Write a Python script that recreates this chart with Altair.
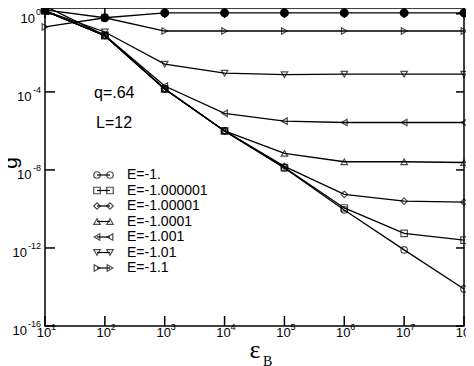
import altair as alt
import pandas as pd

# ---------------- data ----------------
x_exponents = [1, 2, 3, 4, 5, 6, 7, 8]            # eps_B = 10^k
series_labels = ["E=-1.", "E=-1.000001", "E=-1.00001", "E=-1.0001",
                 "E=-1.001", "E=-1.01", "E=-1.1"]
series_shapes = ["circle", "square", "diamond", "triangle-up",
                 "triangle-left", "triangle-down", "triangle-right"]
# log10(g) at each x
log_g_E1        = [0.40, -1.10, -3.85, -6.00, -7.90, -10.05, -12.10, -14.10]
log_g_E1000001  = [0.15, -1.12, -3.85, -6.00, -7.88, -9.95, -11.25, -11.60]
log_g_E100001   = [0.15, -1.12, -3.85, -6.00, -7.82, -9.25, -9.60, -9.65]
log_g_E10001    = [0.15, -1.12, -3.85, -6.00, -7.15, -7.58, -7.58, -7.62]
log_g_E1001     = [0.15, -1.10, -3.70, -5.10, -5.50, -5.57, -5.57, -5.57]
log_g_E101      = [0.15, -0.93, -2.58, -3.04, -3.12, -3.09, -3.09, -3.09]
log_g_E11       = [-0.67, -0.20, -0.88, -0.88, -0.88, -0.88, -0.88, -0.88]
log_g_filled    = [0.20, -0.20, 0.05, 0.05, 0.05, 0.05, 0.05, 0.05]

y_tick_exponents = [-16, -12, -8, -4, 0]
annotations = ["q=.64", "L=12"]

# ---------------- build tables ----------------
all_logs = [log_g_E1, log_g_E1000001, log_g_E100001, log_g_E10001,
            log_g_E1001, log_g_E101, log_g_E11]
rows = []
for lab, logs in zip(series_labels, all_logs):
    for k, lg in zip(x_exponents, logs):
        rows.append({"series": lab, "eps": 10.0 ** k, "g": 10.0 ** lg})
filled_name = "filled"
for k, lg in zip(x_exponents, log_g_filled):
    rows.append({"series": filled_name, "eps": 10.0 ** k, "g": 10.0 ** lg})
df = pd.DataFrame(rows)

xt = pd.DataFrame({"v": [10.0 ** k for k in x_exponents],
                   "exp": [str(k) for k in x_exponents]})
yt = pd.DataFrame({"v": [10.0 ** k for k in y_tick_exponents],
                   "exp": [str(k) for k in y_tick_exponents]})
leg = pd.DataFrame({"label": series_labels, "row": list(range(len(series_labels)))})

W, H = 419, 318
YTOP = 0.3
xscale = alt.Scale(type="log", domain=[10, 1e8], nice=False)
yscale = alt.Scale(type="log", domain=[1e-16, 10 ** YTOP], nice=False)
shape_scale = alt.Scale(domain=series_labels, range=series_shapes)

X = alt.X("eps:Q", scale=xscale, axis=None)
Y = alt.Y("g:Q", scale=yscale, axis=None)

base = alt.Chart(df)
lines = base.mark_line(color="black", strokeWidth=1.3, clip=False).encode(
    x=X, y=Y, detail="series:N")
pts_open = base.transform_filter(alt.datum.series != filled_name).mark_point(
    filled=False, color="black", strokeWidth=1.2, size=42, clip=False).encode(
    x=X, y=Y, shape=alt.Shape("series:N", scale=shape_scale, legend=None))
pts_fill = base.transform_filter(alt.datum.series == filled_name).mark_point(
    filled=True, color="black", shape="circle", size=80, opacity=1, clip=False).encode(x=X, y=Y)

# ticks (inward, on all sides)
XT = alt.X("v:Q", scale=xscale, axis=None)
YT = alt.Y("v:Q", scale=yscale, axis=None)
xt_c = alt.Chart(xt)
yt_c = alt.Chart(yt)
tick_b = xt_c.mark_rule(color="black", strokeWidth=1.5).encode(x=XT, y=alt.value(H), y2=alt.value(H - 10))
tick_t = xt_c.mark_rule(color="black", strokeWidth=1.5).encode(x=XT, y=alt.value(0), y2=alt.value(10))
tick_l = yt_c.mark_rule(color="black", strokeWidth=1.5).encode(y=YT, x=alt.value(0), x2=alt.value(10))
tick_r = yt_c.mark_rule(color="black", strokeWidth=1.5).encode(y=YT, x=alt.value(W), x2=alt.value(W - 8))

FONT = "Liberation Sans"
# x tick labels: "10" + superscript exponent
xl_base = xt_c.mark_text(font=FONT, fontSize=13, align="center", baseline="middle", dx=-1).encode(
    x=XT, y=alt.value(H + 7), text=alt.value("10"))
xl_exp = xt_c.mark_text(font=FONT, fontSize=9, align="left", baseline="middle", dx=6).encode(
    x=XT, y=alt.value(H + 1), text="exp:N")

# y tick labels
yl_exp = yt_c.mark_text(font=FONT, fontSize=9, align="right", baseline="middle", dy=-2).encode(
    y=YT, x=alt.value(-4), text="exp:N")
yl_base = []
for n, xoff in [(1, -10), (2, -13.5), (3, -18)]:
    yl_base.append(yt_c.transform_filter(f"length(datum.exp) == {n}").mark_text(
        font=FONT, fontSize=13, align="right", baseline="middle", dy=5).encode(
        y=YT, x=alt.value(xoff), text=alt.value("10")))

# legend
leg_c = alt.Chart(leg).transform_calculate(
    ly=f"pow(10, {YTOP} - (167 + 15.5 * datum.row) / ({H} / (16 + {YTOP})))")
LY = alt.Y("ly:Q", scale=yscale, axis=None)
leg_rule = leg_c.mark_rule(color="black", strokeWidth=1.2).encode(
    y=LY, x=alt.value(52), x2=alt.value(65))
leg_p1 = leg_c.mark_point(filled=False, color="black", strokeWidth=1.2, size=42).encode(
    y=LY, x=alt.value(52), shape=alt.Shape("label:N", scale=shape_scale, legend=None))
leg_p2 = leg_c.mark_point(filled=False, color="black", strokeWidth=1.2, size=42).encode(
    y=LY, x=alt.value(65), shape=alt.Shape("label:N", scale=shape_scale, legend=None))
leg_t = leg_c.mark_text(font=FONT, fontSize=14, align="left", baseline="middle").encode(
    y=LY, x=alt.value(82), text="label:N")

# annotations
ann_q = alt.Chart(pd.DataFrame({"t": [annotations[0]]})).mark_text(
    font=FONT, fontSize=16, align="left", baseline="middle").encode(
    x=alt.value(49), y=alt.value(85), text="t:N")
ann_L = alt.Chart(pd.DataFrame({"t": [annotations[1]]})).mark_text(
    font=FONT, fontSize=16, align="left", baseline="middle").encode(
    x=alt.value(51), y=alt.value(115), text="t:N")

# axis titles
t_g = alt.Chart(pd.DataFrame({"t": ["g"]})).mark_text(
    font=FONT, fontSize=21, angle=270, align="center", baseline="middle").encode(
    x=alt.value(-34), y=alt.value(155), text="t:N")
t_eps = alt.Chart(pd.DataFrame({"t": ["ε"]})).mark_text(
    font="Liberation Serif", fontSize=26, align="center", baseline="middle").encode(
    x=alt.value(210), y=alt.value(342), text="t:N")
t_B = alt.Chart(pd.DataFrame({"t": ["B"]})).mark_text(
    font="Liberation Serif", fontSize=14, align="left", baseline="middle").encode(
    x=alt.value(218), y=alt.value(354), text="t:N")

chart = alt.layer(
    lines, pts_open, pts_fill,
    tick_b, tick_t, tick_l, tick_r,
    xl_base, xl_exp, yl_exp, *yl_base,
    leg_rule, leg_p1, leg_p2, leg_t,
    ann_q, ann_L, t_g, t_eps, t_B,
).properties(
    width=W, height=H,
    autosize=alt.AutoSizeParams(type="none"),
    padding={"left": 37, "top": 0, "right": 2, "bottom": 40},
    background="white",
).configure_view(stroke="black", strokeWidth=1.5)

chart.save("out.html", embed_options={"renderer": "svg", "actions": False})
